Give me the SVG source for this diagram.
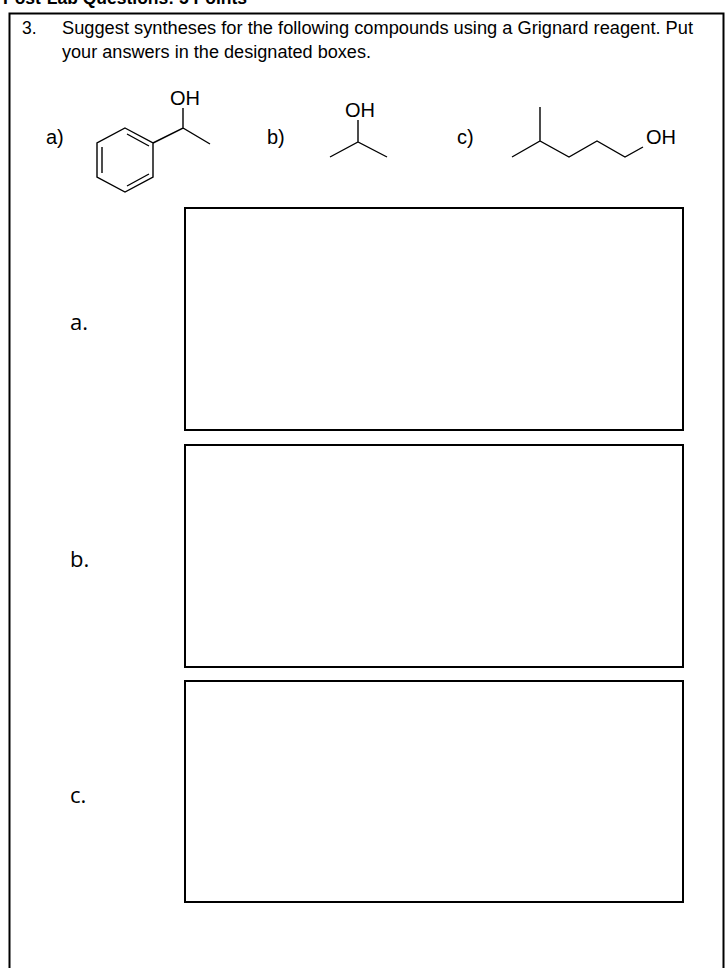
<svg xmlns="http://www.w3.org/2000/svg" width="727" height="968" viewBox="0 0 727 968">
<style>
.t{font-family:"Liberation Sans",Arial,sans-serif;font-size:17.5px;fill:#000}
.m{font-family:"Liberation Sans",Arial,sans-serif;font-size:20px;fill:#000}
.l{font-family:"Open Sans","Noto Sans",sans-serif;font-size:22px;fill:#000}
.b{fill:none;stroke:#000;stroke-width:1.4}
.box{fill:#fff;stroke:#000;stroke-width:2}
</style>
<rect width="727" height="968" fill="#fff"/>
<text x="3" y="4" class="t" style="font-weight:bold">Post-Lab Questions: 5 Points</text>
<path d="M9.5 975 V13.5 H723.5 V975" fill="none" stroke="#000" stroke-width="2"/>
<text x="22" y="34" class="t">3.</text>
<text x="62" y="34" class="t" textLength="631" lengthAdjust="spacingAndGlyphs">Suggest syntheses for the following compounds using a Grignard reagent. Put</text>
<text x="62" y="58" class="t" textLength="309" lengthAdjust="spacingAndGlyphs">your answers in the designated boxes.</text>
<g id="mol-a">
<text x="46" y="144" class="m">a)</text>
<text x="185" y="105" class="m" text-anchor="middle">OH</text>
<path class="b" d="M125 128 L153 143 L153 177 L125 192 L97 177 L97 143 Z"/>
<path class="b" d="M102 147 V173 M127 134 L149 146 M149 174 L127 186"/>
<path class="b" d="M153 143 L183 128 L210 144 M183 128 V108"/>
</g>
<g id="mol-b">
<text x="267" y="144" class="m">b)</text>
<text x="360" y="117" class="m" text-anchor="middle">OH</text>
<path class="b" d="M358 120 V142 M330 157 L358 142 L387 157"/>
</g>
<g id="mol-c">
<text x="457" y="144" class="m">c)</text>
<path class="b" d="M512 157 L540 141 L569 157 L597 141 L625 157 L643 147 M540 141 V107"/>
<text x="646" y="144" class="m">OH</text>
</g>
<g id="box-a"><rect class="box" x="185" y="208" width="498" height="222"/><text x="70" y="330" class="l">a.</text></g>
<g id="box-b"><rect class="box" x="185" y="445" width="498" height="222"/><text x="70" y="567" class="l">b.</text></g>
<g id="box-c"><rect class="box" x="185" y="681" width="498" height="221"/><text x="70" y="803" class="l">c.</text></g>
<g id="connectors"/>
</svg>
